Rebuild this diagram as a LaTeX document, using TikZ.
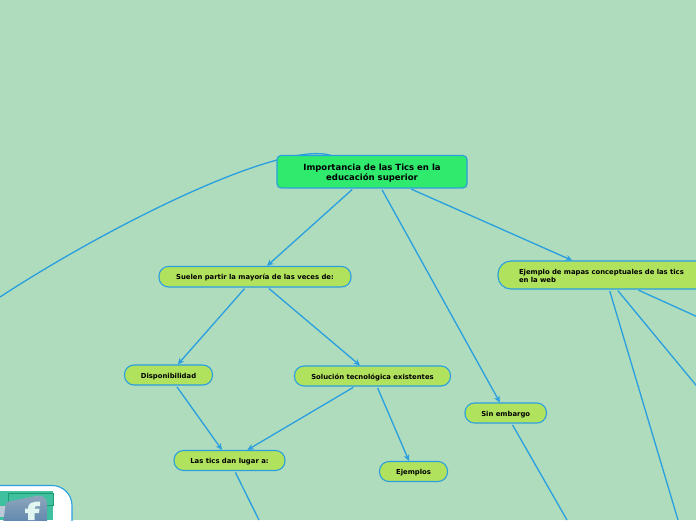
\documentclass[tikz,border=0pt]{standalone}
\usepackage{fontspec}
\setmainfont{DejaVu Sans}
\usetikzlibrary{arrows.meta}
\definecolor{bgc}{HTML}{AEDCBC}
\definecolor{nodeg}{HTML}{B1E25E}
\definecolor{titleg}{HTML}{30EA6E}
\definecolor{linec}{HTML}{2A9FE0}
\definecolor{tealc}{HTML}{3FC09F}
\definecolor{tealdark}{HTML}{1E9A6E}
\definecolor{slatec}{HTML}{8FA6BC}
\definecolor{slated}{HTML}{5C86AE}
\newcommand{\dnS}{\rule{0pt}{7.9pt}}
\newcommand{\dnT}{\rule{0pt}{9pt}}
\tikzset{
  conn/.style={draw=linec,line width=1.3pt,shorten <=1.5pt,-{Stealth[length=6.5pt,width=6pt]}},
  plainconn/.style={draw=linec,line width=1.3pt,shorten <=1.5pt},
  topic/.style={draw=linec,line width=1.1pt,fill=nodeg,rounded corners=9.5pt,inner sep=0pt,
    font=\fontsize{6.85}{8}\selectfont\bfseries,text=black,align=center},
  titlebox/.style={draw=linec,line width=1.1pt,fill=titleg,rounded corners=4pt,inner sep=0pt,
    font=\fontsize{8.5}{10}\selectfont\bfseries,text=black,align=center,
    minimum width=190pt,minimum height=32.5pt},
}
\begin{document}
\begin{tikzpicture}[x=1pt,y=-1pt]
\useasboundingbox (0,0) rectangle (696,520);
\clip (0,0) rectangle (696,520);
\fill[bgc] (0,0) rectangle (696,520);
% free ends
\coordinate (curvestart) at (0,297);
\coordinate (curveend) at (335,157);
\coordinate (endA) at (678,520);
\coordinate (endB) at (700,390);
\coordinate (endC) at (700,318);
\coordinate (endD) at (567,520);
\coordinate (endE) at (259,520);
% curve behind the title
\draw[plainconn,shorten <=0pt] (curvestart) .. controls (110,225) and (290,135) .. (curveend);
% nodes
\node[titlebox] (title) at (372,171.7) {\dnT Importancia de las Tics en la\\educación superior};
\node[topic,minimum width=192pt,minimum height=20.5pt] (suelen) at (255,276.7) {\dnS Suelen partir la mayoría de las veces de:};
\node[topic,minimum width=88pt,minimum height=20pt] (dispo) at (168.5,375) {\dnS Disponibilidad};
\node[topic,minimum width=156pt,minimum height=20pt] (solucion) at (372.5,376) {\dnS Solución tecnológica existentes};
\node[topic,minimum width=111pt,minimum height=20pt] (lastics) at (229.5,460.5) {\dnS Las tics dan lugar a:};
\node[topic,minimum width=68pt,minimum height=20pt] (ejemplos) at (413.5,471.5) {\dnS Ejemplos};
\node[topic,minimum width=81.5pt,minimum height=20pt] (sin) at (505.7,413) {\dnS Sin embargo};
\node[topic,rounded corners=13pt,minimum width=214pt,minimum height=28pt,text width=172pt,align=left] (mapas) at (605,275) {\dnS Ejemplo de mapas conceptuales de las tics\\en la web};
% connectors
\draw[conn] (title) -- (suelen);
\draw[conn] (title) -- (sin);
\draw[conn] (title) -- (mapas);
\draw[conn] (suelen) -- (dispo);
\draw[conn] (suelen) -- (solucion);
\draw[conn] (dispo) -- (lastics);
\draw[conn] (solucion) -- (lastics);
\draw[conn] (solucion) -- (ejemplos);
\draw[plainconn] (lastics) -- (endE);
\draw[plainconn] (sin) -- (endD);
\draw[plainconn] (mapas) -- (endA);
\draw[plainconn] (mapas) -- (endB);
\draw[plainconn] (mapas) -- (endC);
% picture card bottom left
\draw[draw=linec,line width=1.1pt,fill=white,rounded corners=20pt] (-60,485.5) rectangle (72,600);
\fill[tealc] (0,491) rectangle (53,520);
\draw[tealdark,line width=1pt] (8,493) rectangle (53,505) (45,505) -- (45,520);
\fill[slatec!60!white] (0,506) rectangle (10,517);
\path[top color=slatec,bottom color=slated,rounded corners=3pt] (6,502) -- (41,495) -- (47,500) -- (47,524) -- (3,524) -- cycle;
\fill[white!85!tealc] (28,520) -- (28,513) -- (25,513) -- (25,508.5) -- (28,508.5)
  .. controls (28,503) and (32,501.5) .. (40,501.5) -- (40,506) .. controls (35.5,506) and (34.5,506.5) .. (34.5,508.5)
  -- (39.5,508.5) -- (39,513) -- (34.5,513) -- (34.5,520) -- cycle;
\end{tikzpicture}
\end{document}
